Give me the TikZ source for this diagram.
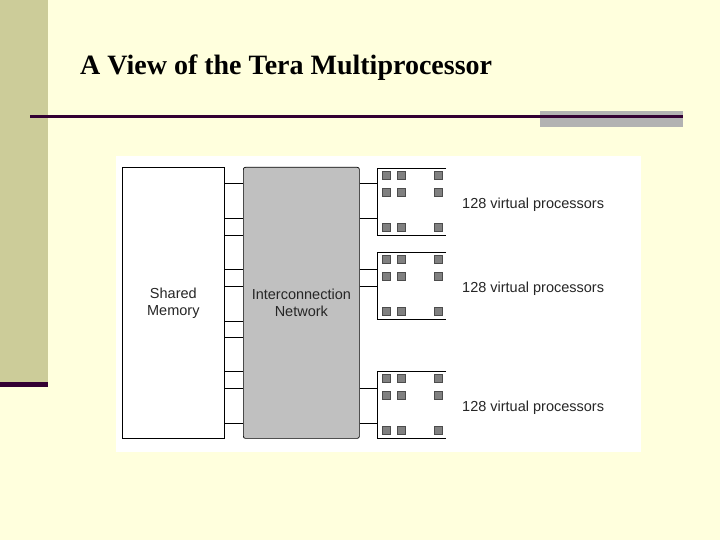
\documentclass[tikz,border=0pt]{standalone}
\usepackage{fontspec}
\setmainfont{Liberation Serif}
\newfontfamily\arial{Liberation Sans}
\definecolor{bg}{HTML}{FFFFDD}
\definecolor{olive}{HTML}{CCCC99}
\definecolor{dk}{HTML}{330033}
\definecolor{gbar}{HTML}{B2B2B2}
\definecolor{net}{HTML}{C0C0C0}
\definecolor{sq}{HTML}{808080}
\begin{document}
\begin{tikzpicture}[x=1pt,y=-1pt,
  wire/.style={draw=black,line width=0.7pt},
  chip/.style={draw=black!70,fill=sq,minimum size=7.5pt,inner sep=0pt,line width=0.4pt},
  lbl/.style={font=\arial\fontsize{14.5}{17}\selectfont,align=center,text=black!85}]
\useasboundingbox (0,0) rectangle (720,540);
\fill[bg] (0,0) rectangle (720,540);
\fill[olive] (0,0) rectangle (48,382);
\fill[dk] (0,382) rectangle (48,387);
\fill[gbar] (540,111) rectangle (683,127);
\fill[dk] (30,115.5) rectangle (683,118.5);
\node[anchor=west,inner sep=0pt,font=\bfseries\fontsize{28}{32}\selectfont] (title) at (80,68) {A View of the Tera Multiprocessor};
\fill[white] (116,156) rectangle (641,452);
\node[draw,line width=0.7pt,minimum width=102pt,minimum height=271pt,inner sep=0pt,anchor=north west,lbl] (mem) at (122,167) {Shared\\Memory};
\node[draw,line width=0.7pt,fill=net,rounded corners=2pt,minimum width=116pt,minimum height=271pt,inner sep=0pt,anchor=north west,lbl] (netw) at (243,167) {Interconnection\\Network};
\foreach \y in {183,218,235,269,286,321,337,371,388,423}
  \draw[wire] (mem.east |- 0,\y) -- (netw.west |- 0,\y);
\foreach \t/\a/\b/\n in {168/183/218/1,252/269/286/2,371/388/423/3}{
  \coordinate (tl\n) at (377,\t);
  \coordinate (tr\n) at (446,\t);
  \coordinate (bl\n) at (377,\t+67);
  \coordinate (br\n) at (446,\t+67);
  \draw[wire] (tr\n) -- (tl\n) -- (bl\n) -- (br\n);
  \draw[wire] (netw.east |- 0,\a) -- (tl\n |- 0,\a);
  \draw[wire] (netw.east |- 0,\b) -- (tl\n |- 0,\b);
  \foreach \dx in {9,24,61}
    \foreach \dy in {7,24,59}
      \node[chip] (c\n-\dx-\dy) at (377+\dx,\t+\dy) {};
  \node[lbl,anchor=west,inner sep=0pt] (p\n) at (462,\t+36.5) {128 virtual processors};
}
\end{tikzpicture}
\end{document}
